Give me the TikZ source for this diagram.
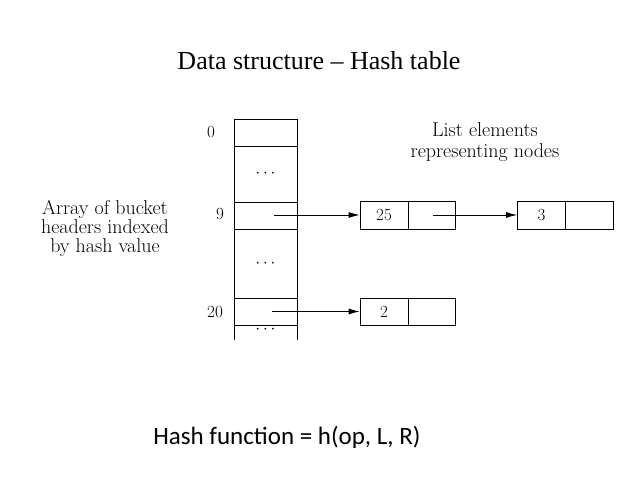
\documentclass[tikz,border=0pt]{standalone}
\usepackage{fontspec}
\newfontfamily\titlefont{Liberation Serif}
\newfontfamily\hashfont{Carlito}
\usetikzlibrary{arrows.meta}
\begin{document}
\begin{tikzpicture}[x=1pt,y=-1pt, line width=0.8pt,
  cell/.style={draw, inner sep=0pt, minimum width=63pt, font=\fontsize{17}{20}\selectfont},
  half/.style={draw, inner sep=0pt, minimum width=48pt, minimum height=28pt, font=\fontsize{17}{20}\selectfont},
  lbl/.style={font=\fontsize{17}{20}\selectfont},
  ptr/.style={-{Latex[length=11pt,width=6pt]}, line width=0.8pt}]
  \useasboundingbox (0,0) rectangle (638,478);
  \node[font=\titlefont\fontsize{26}{30}\selectfont] (title) at (319,61) {Data structure – Hash table};

  % array of bucket headers
  \node[cell, minimum height=27pt] (c0) at (265.5,132.5) {};
  \node[cell, minimum height=56pt] (d1) at (265.5,174) {$\cdots$};
  \node[cell, minimum height=27pt] (c9) at (265.5,215.5) {};
  \node[cell, minimum height=69pt] (d2) at (265.5,263.5) {$\cdots$};
  \node[cell, minimum height=27pt] (c20) at (265.5,311.5) {};
  \draw (234,325) -- (234,340) (297,325) -- (297,340);
  \node[lbl] (dots3) at (265.5,330) {$\cdots$};

  \node[lbl] (l0) at (211,132) {0};
  \node[lbl] (l9) at (220,214) {9};
  \node[lbl] (l20) at (215,312) {20};

  \node[align=center, font=\fontsize{20}{19}\selectfont] (arr) at (105,228)
    {Array of bucket\\headers indexed\\by hash value};
  \node[align=center, font=\fontsize{20}{21}\selectfont] (le) at (485,142)
    {List elements\\representing nodes};

  % list elements
  \node[half] (n25) at (384,215) {25};
  \node[half, minimum width=47pt] (n25b) at (431.5,215) {};
  \node[half] (n3) at (541.5,215) {3};
  \node[half] (n3b) at (589,215) {};
  \node[half, minimum height=27pt] (n2) at (384,311.5) {2};
  \node[half, minimum width=47pt, minimum height=27pt] (n2b) at (431.5,311.5) {};

  \coordinate (p9) at (274,215);
  \coordinate (p25) at (433,215);
  \coordinate (p20) at (272,311.5);
  \draw[ptr] (p9) -- (n25.west);
  \draw[ptr] (p25) -- (n3.west);
  \draw[ptr] (p20) -- (n2.west);

  \node[font=\hashfont\fontsize{25}{28}\selectfont] (hash) at (287,437) {Hash function = h(op, L, R)};
\end{tikzpicture}
\end{document}
